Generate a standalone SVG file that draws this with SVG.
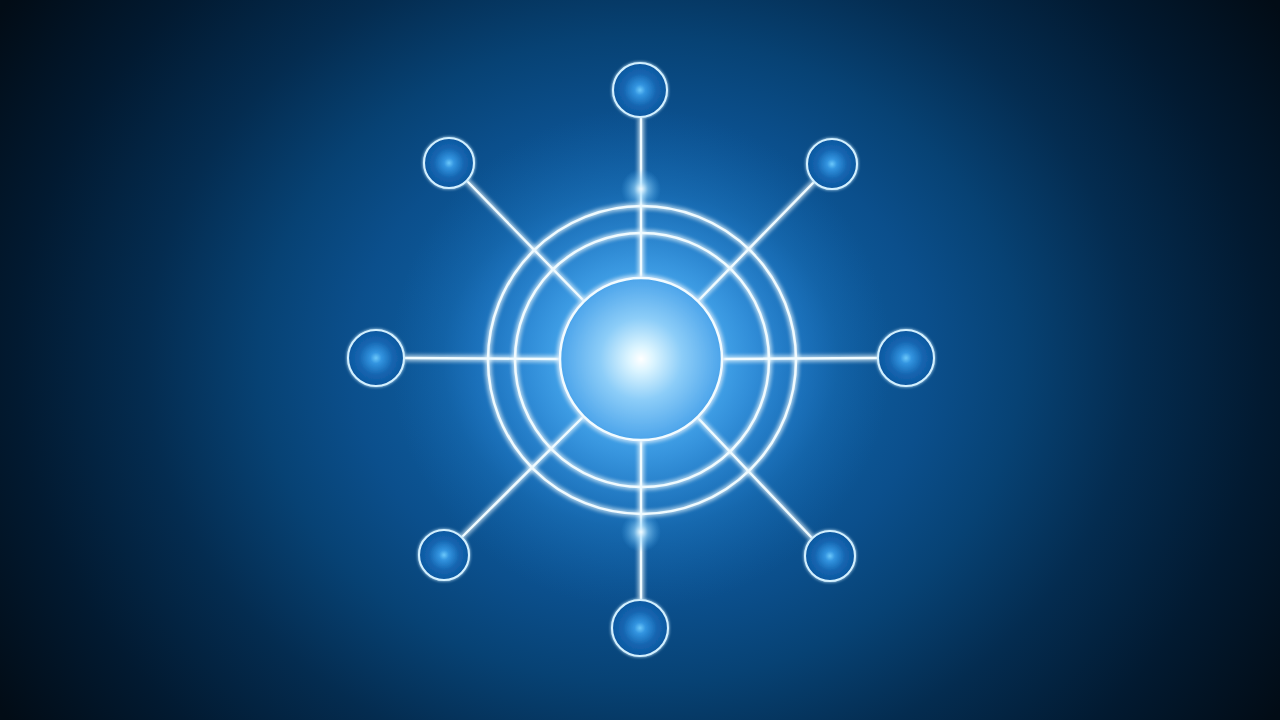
<svg xmlns="http://www.w3.org/2000/svg" width="1280" height="720" viewBox="0 0 1280 720">
  <style>
    .ln { stroke: #f0fbff; stroke-width: 2.4; fill: none; stroke-linecap: round; }
    .ring { stroke: #f0fbff; stroke-width: 2.5; fill: none; }
    .sat { stroke: #d2f0ff; stroke-width: 2.1; fill: url(#satFill); }
  </style>
  <defs>
    <radialGradient id="bg" gradientUnits="userSpaceOnUse" cx="640" cy="360" r="760" gradientTransform="translate(640 360) scale(1 0.85) translate(-640 -360)">
      <stop offset="0" stop-color="#2a8ee0"/>
      <stop offset="0.15" stop-color="#1c74c2"/>
      <stop offset="0.26" stop-color="#0e5b9c"/>
      <stop offset="0.38" stop-color="#0b4f8c"/>
      <stop offset="0.5" stop-color="#074274"/>
      <stop offset="0.65" stop-color="#042c50"/>
      <stop offset="0.82" stop-color="#021a31"/>
      <stop offset="1" stop-color="#020c16"/>
    </radialGradient>
    <radialGradient id="halo" gradientUnits="userSpaceOnUse" cx="641" cy="359" r="250">
      <stop offset="0" stop-color="#a8e2ff" stop-opacity="0.9"/>
      <stop offset="0.35" stop-color="#52b4f7" stop-opacity="0.6"/>
      <stop offset="0.65" stop-color="#2a88d8" stop-opacity="0.35"/>
      <stop offset="1" stop-color="#1a6ec0" stop-opacity="0"/>
    </radialGradient>
    <radialGradient id="core" gradientUnits="userSpaceOnUse" cx="641" cy="359" r="82">
      <stop offset="0" stop-color="#ffffff"/>
      <stop offset="0.15" stop-color="#dcf5ff"/>
      <stop offset="0.5" stop-color="#8ccdf8"/>
      <stop offset="1" stop-color="#4aa3ea"/>
    </radialGradient>
    <radialGradient id="satFill" cx="0.5" cy="0.5" r="0.5">
      <stop offset="0" stop-color="#6cc8fb"/>
      <stop offset="0.2" stop-color="#3294e0"/>
      <stop offset="0.6" stop-color="#1565b0"/>
      <stop offset="1" stop-color="#0c579f"/>
    </radialGradient>
    <radialGradient id="spark" cx="0.5" cy="0.5" r="0.5">
      <stop offset="0" stop-color="#f0fbff" stop-opacity="1"/>
      <stop offset="0.35" stop-color="#a0dcff" stop-opacity="0.6"/>
      <stop offset="1" stop-color="#4fb0f5" stop-opacity="0"/>
    </radialGradient>
    <filter id="glow" x="-20%" y="-20%" width="140%" height="140%">
      <feGaussianBlur in="SourceGraphic" stdDeviation="2.5" result="b"/>
      <feMerge>
        <feMergeNode in="b"/>
        <feMergeNode in="b"/>
        <feMergeNode in="SourceGraphic"/>
      </feMerge>
    </filter>
    <filter id="soft" x="-20%" y="-20%" width="140%" height="140%">
      <feGaussianBlur in="SourceGraphic" stdDeviation="1.6" result="b"/>
      <feMerge>
        <feMergeNode in="b"/>
        <feMergeNode in="SourceGraphic"/>
      </feMerge>
    </filter>
  </defs>

  <rect x="0" y="0" width="1280" height="720" fill="url(#bg)"/>
  <circle cx="641" cy="359" r="250" fill="url(#halo)"/>

  <g id="connectors" filter="url(#glow)">
    <line class="ln" x1="641" y1="278" x2="641" y2="118"/>
    <line class="ln" x1="641" y1="440" x2="641" y2="600"/>
    <line class="ln" x1="560" y1="359" x2="405" y2="358"/>
    <line class="ln" x1="722" y1="359" x2="878" y2="358"/>
    <line class="ln" x1="584" y1="301" x2="467" y2="181"/>
    <line class="ln" x1="698" y1="301" x2="814" y2="182"/>
    <line class="ln" x1="584" y1="416" x2="462" y2="537"/>
    <line class="ln" x1="697" y1="417" x2="812" y2="538"/>
  </g>

  <g id="sparks">
    <circle cx="641" cy="189" r="20" fill="url(#spark)"/>
    <circle cx="641" cy="532" r="20" fill="url(#spark)"/>
  </g>

  <g id="hub" filter="url(#glow)">
    <circle class="ring" cx="642" cy="360" r="154"/>
    <circle class="ring" cx="642" cy="360" r="127"/>
    <circle cx="641" cy="359" r="81" fill="url(#core)" stroke="#f2fbff" stroke-width="2.5"/>
  </g>

  <g id="node-top" filter="url(#soft)"><circle class="sat" cx="640" cy="90" r="27"/></g>
  <g id="node-top-right" filter="url(#soft)"><circle class="sat" cx="832" cy="164" r="25"/></g>
  <g id="node-right" filter="url(#soft)"><circle class="sat" cx="906" cy="358" r="28"/></g>
  <g id="node-bottom-right" filter="url(#soft)"><circle class="sat" cx="830" cy="556" r="25"/></g>
  <g id="node-bottom" filter="url(#soft)"><circle class="sat" cx="640" cy="628" r="28"/></g>
  <g id="node-bottom-left" filter="url(#soft)"><circle class="sat" cx="444" cy="555" r="25"/></g>
  <g id="node-left" filter="url(#soft)"><circle class="sat" cx="376" cy="358" r="28"/></g>
  <g id="node-top-left" filter="url(#soft)"><circle class="sat" cx="449" cy="163" r="25"/></g>
</svg>
